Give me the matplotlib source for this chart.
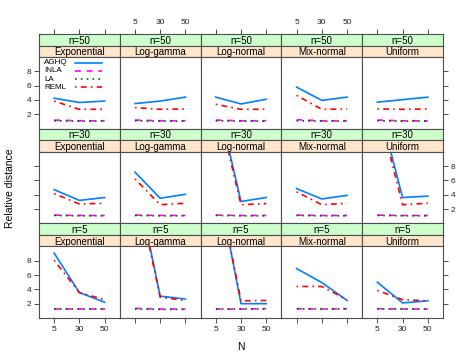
import matplotlib.pyplot as plt
import numpy as np

plt.rcParams['font.family'] = ['Liberation Sans', 'DejaVu Sans']

dists = ["Exponential", "Log-gamma", "Log-normal", "Mix-normal", "Uniform"]
n_rows = ["n=50", "n=30", "n=5"]
N_labels = ["5", "30", "50"]
methods = ["AGHQ", "INLA", "LA", "REML"]

# rows: n=50, n=30, n=5 ; per distribution ; values at N = 5, 30, 50
aghq = [
    [[4.25, 3.65, 3.85], [3.5, 3.85, 4.4], [4.4, 3.45, 4.1], [5.8, 3.95, 4.4], [3.7, 4.05, 4.4]],
    [[4.7, 3.2, 3.6], [7.15, 3.5, 4.05], [18.2, 3.05, 3.6], [4.85, 3.4, 3.9], [17.2, 3.6, 3.8]],
    [[9.05, 3.55, 2.2], [20.0, 3.05, 2.65], [20.3, 2.0, 2.0], [6.9, 4.95, 2.45], [5.0, 2.1, 2.4]],
]
inla = [
    [[1.2, 1.1, 1.1], [1.2, 1.1, 1.1], [1.2, 1.1, 1.1], [1.25, 1.1, 1.1], [1.2, 1.1, 1.1]],
    [[1.15, 1.1, 1.1], [1.15, 1.1, 1.1], [1.15, 1.1, 1.1], [1.15, 1.1, 1.1], [1.15, 1.1, 1.1]],
    [[1.25, 1.25, 1.25], [1.35, 1.25, 1.25], [1.25, 1.25, 1.3], [1.3, 1.25, 1.3], [1.3, 1.25, 1.25]],
]
la = [
    [[1.1, 1.05, 1.05], [1.1, 1.05, 1.05], [1.1, 1.05, 1.05], [1.1, 1.05, 1.05], [1.1, 1.05, 1.05]],
    [[1.1, 1.05, 1.05], [1.1, 1.05, 1.05], [1.1, 1.05, 1.05], [1.1, 1.05, 1.05], [1.1, 1.05, 1.05]],
    [[1.2, 1.2, 1.2], [1.25, 1.2, 1.2], [1.2, 1.2, 1.2], [1.2, 1.2, 1.2], [1.2, 1.2, 1.2]],
]
reml = [
    [[3.85, 2.7, 2.7], [2.95, 2.7, 2.75], [3.4, 2.7, 2.7], [4.65, 2.7, 2.75], [2.75, 2.7, 2.75]],
    [[4.15, 2.7, 2.8], [6.2, 2.6, 2.8], [17.5, 2.6, 2.75], [4.4, 2.6, 2.8], [16.5, 2.6, 2.8]],
    [[8.05, 3.55, 2.55], [19.5, 2.9, 2.45], [20.0, 2.4, 2.45], [4.4, 4.4, 2.55], [3.85, 2.55, 2.4]],
]

styles = {
    "AGHQ": dict(color="#0080ff", ls="-", lw=1.2),
    "INLA": dict(color="#ff00ff", ls=(0, (3.5, 3.5)), lw=1.2),
    "LA": dict(color="#006400", ls=(0, (1, 2.5)), lw=1.2),
    "REML": dict(color="#ff0000", ls=(0, (1, 2.5, 3.5, 2.5)), lw=1.2),
}
series = {"AGHQ": aghq, "INLA": inla, "LA": la, "REML": reml}

W, H = 474, 360
fig = plt.figure(figsize=(W / 100, H / 100), dpi=100)
x0, x1 = 39, 443
y0, y1 = 34, 318
cw = (x1 - x0) / 5
rh = (y1 - y0) / 3
sh = 11.5
ph = rh - 2 * sh
edge = "#4d4d4d"
tick_kw = dict(length=3.5, width=0.7, color=edge, labelsize=6, labelcolor="#222222", pad=2)


def box(px, py, pw, phh):
    return [px / W, 1 - (py + phh) / H, pw / W, phh / H]


def strip(px, py, color, label):
    ax = fig.add_axes(box(px, py, cw, sh))
    ax.set_facecolor(color)
    ax.set_xticks([])
    ax.set_yticks([])
    for s in ax.spines.values():
        s.set_color(edge)
        s.set_linewidth(0.8)
    ax.text(0.5, 0.42, label, ha="center", va="center", fontsize=7, transform=ax.transAxes)
    return ax


xs = np.arange(1, len(N_labels) + 1)
for r, nlab in enumerate(n_rows):
    for c, dist in enumerate(dists):
        px = x0 + c * cw
        py = y0 + r * rh
        top = strip(px, py, "#ccffcc", nlab)
        strip(px, py + sh, "#ffe5cc", dist)
        if r == 0:
            top.set_xlim(0.4, 3.6)
            top.set_xticks(xs)
            top.set_xticklabels(N_labels)
            top.tick_params(axis="x", top=True, bottom=False, labeltop=c in (1, 3),
                            labelbottom=False, **tick_kw)

        ax = fig.add_axes(box(px, py + 2 * sh, cw, ph))
        for m in methods:
            ax.plot(xs, series[m][r][c], **styles[m])
        ax.set_xlim(0.4, 3.6)
        ax.set_ylim(0, 10)
        ax.set_xticks(xs)
        ax.set_xticklabels(N_labels)
        ax.set_yticks([2, 4, 6, 8])
        for s in ax.spines.values():
            s.set_color(edge)
            s.set_linewidth(0.8)
        ax.tick_params(axis="y", left=c == 0, labelleft=(c == 0 and r != 1),
                       right=c == 4, labelright=(c == 4 and r == 1), **tick_kw)
        ax.tick_params(axis="x", bottom=r == 2, labelbottom=(r == 2 and c in (0, 2, 4)),
                       top=False, labeltop=False, **tick_kw)

        if r == 0 and c == 0:
            for i, m in enumerate(methods):
                yy = 1 - (5.7 + 8.2 * i) / ph
                ax.text(5 / cw, yy, m, fontsize=5.8, va="center", ha="left",
                        transform=ax.transAxes)
                ax.plot([36 / cw, 63 / cw], [yy, yy], transform=ax.transAxes, **styles[m])

fig.text(10 / W, 1 - 188 / H, "Relative distance", rotation=90, ha="center", va="center", fontsize=7.5)
fig.text(241 / W, 1 - 347 / H, "N", ha="center", va="center", fontsize=7.5)

fig.savefig("out.png", dpi=100)
